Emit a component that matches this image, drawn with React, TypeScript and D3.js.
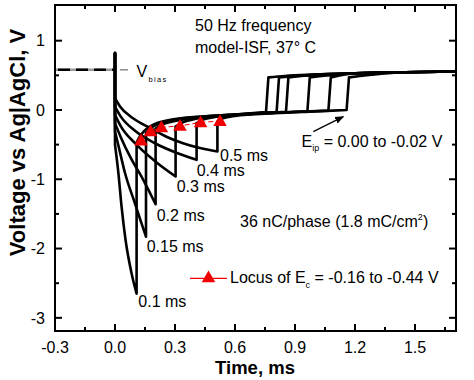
import React from 'react';
import * as d3 from 'd3';

// ---- data ----
const pulseLabels = ['0.1 ms', '0.15 ms', '0.2 ms', '0.3 ms', '0.4 ms', '0.5 ms'];
const vBias = 0.58;
const spikeTop = 0.82;

// cathodic phase (t ms, V)
const cathodic01 = [[0, -0.5], [0.017, -0.91], [0.033, -1.4], [0.053, -1.88], [0.083, -2.36], [0.108, -2.65]];
const cathodic015 = [[0, -0.31], [0.02, -0.55], [0.05, -0.91], [0.1, -1.35], [0.133, -1.64], [0.155, -1.83]];
const cathodic02 = [[0, -0.19], [0.03, -0.4], [0.08, -0.7], [0.14, -1.0], [0.203, -1.36]];
const cathodic03 = [[0, -0.07], [0.03, -0.24], [0.1, -0.48], [0.2, -0.74], [0.303, -0.96]];
const cathodic04 = [[0, 0.05], [0.03, -0.1], [0.1, -0.3], [0.2, -0.48], [0.3, -0.61], [0.408, -0.72]];
const cathodic05 = [[0, 0.17], [0.025, 0.05], [0.09, -0.12], [0.175, -0.26], [0.26, -0.39], [0.34, -0.48], [0.425, -0.55], [0.512, -0.6]];

// recovery after the cathodic phase, up to the anodic step
const recovery01 = [[0.108, -0.47], [0.125, -0.38], [0.15, -0.29], [0.2, -0.2], [0.3, -0.13], [0.45, -0.09], [0.6, -0.065], [0.755, -0.03]];
const recovery015 = [[0.155, -0.33], [0.175, -0.27], [0.21, -0.21], [0.3, -0.14], [0.45, -0.095], [0.6, -0.065], [0.808, -0.03]];
const recovery02 = [[0.203, -0.27], [0.23, -0.22], [0.3, -0.16], [0.45, -0.1], [0.6, -0.07], [0.855, -0.025]];
const recovery03 = [[0.303, -0.24], [0.33, -0.19], [0.4, -0.13], [0.5, -0.09], [0.6, -0.07], [0.8, -0.04], [0.962, -0.02]];
const recovery04 = [[0.408, -0.19], [0.44, -0.14], [0.5, -0.1], [0.6, -0.07], [0.8, -0.04], [1.067, -0.01]];
const recovery05 = [[0.512, -0.17], [0.54, -0.12], [0.6, -0.085], [0.8, -0.045], [1.0, -0.02], [1.158, 0.0]];

const jumpTops = [0.47, 0.47, 0.47, 0.47, 0.47, 0.47];
const postJump = [[0.85, 0.49], [1.0, 0.51], [1.2, 0.53], [1.45, 0.545], [1.7, 0.555]];

// locus of Ec
const ecTimes = [0.13, 0.178, 0.232, 0.325, 0.428, 0.525];
const ecValues = [-0.44, -0.31, -0.25, -0.23, -0.18, -0.16];

const xMajor = [-0.3, 0, 0.3, 0.6, 0.9, 1.2, 1.5];
const xMinor = [-0.15, 0.15, 0.45, 0.75, 1.05, 1.35, 1.65];
const yMajor = [-3, -2, -1, 0, 1];
const yMinor = [-2.5, -1.5, -0.5, 0.5];

const cathodics = [cathodic01, cathodic015, cathodic02, cathodic03, cathodic04, cathodic05];
const recoveries = [recovery01, recovery015, recovery02, recovery03, recovery04, recovery05];

const FONT = '"Liberation Sans", Arial, sans-serif';

export default function App() {
  const W = 474, H = 380;
  const L = 55, R = 456, T = 5, B = 331;
  const x = d3.scaleLinear().domain([-0.3, 1.705]).range([L, R]);
  const y = d3.scaleLinear().domain([-3.19, 1.515]).range([B, T]);

  const smooth = d3.line<number[]>().x(d => x(d[0])).y(d => y(d[1])).curve(d3.curveMonotoneX);
  const straight = d3.line<number[]>().x(d => x(d[0])).y(d => y(d[1]));

  const paths: string[] = [];
  cathodics.forEach((cat, i) => {
    const rec = recoveries[i];
    const lastC = cat[cat.length - 1];
    const lastR = rec[rec.length - 1];
    const jt = lastR[0];
    const top = [jt + 0.012, jumpTops[i]];
    let d = '';
    d += straight([[0, spikeTop], cat[0]]);
    d += smooth(cat);
    d += straight([lastC, rec[0]]);
    d += smooth(rec);
    d += straight([lastR, top]);
    d += smooth([top, ...postJump.filter(p => p[0] > jt + 0.07)]);
    paths.push(d);
  });

  const tri = d3.symbol().type(d3.symbolTriangle).size(80)();
  const red = '#f00000';
  const labelPos = [
    [138.3, 306.7], [146.7, 251.7], [156.7, 220.7], [176.7, 191.7], [196.7, 175.5], [220, 161],
  ];
  const fmtX = (v: number) => d3.format('.1f')(v).replace('\u2212', '-');

  return (
    <svg width={W} height={H} style={{ position: 'absolute', left: 0, top: 0, background: '#fff' }} fontFamily={FONT}>
      <rect x={0} y={0} width={W} height={H} fill="#fff" />
      {/* Vbias pre-pulse */}
      <line x1={x(-0.3)} x2={x(0)} y1={y(vBias)} y2={y(vBias)} stroke="#9a9a9a" strokeWidth={2.4} />
      <line x1={x(-0.3)} x2={x(0)} y1={y(vBias)} y2={y(vBias)} stroke="#000" strokeWidth={2.4} strokeDasharray="12,6" strokeDashoffset={-3} />
      <line x1={120} x2={128} y1={y(vBias)} y2={y(vBias)} stroke="#8a8a8a" strokeWidth={1.5} />
      <text x={136.5} y={77} fontSize={16}>V</text>
      <text x={148.5} y={81.5} fontSize={7.5} letterSpacing={1.3}>bias</text>

      {/* traces */}
      {paths.map((d, i) => (
        <path key={i} d={d} fill="none" stroke="#000" strokeWidth={2.6} strokeLinejoin="round" strokeLinecap="round" />
      ))}

      {/* locus of Ec */}
      <path d={straight(ecTimes.map((t, i) => [t, ecValues[i]])) || ''} fill="none" stroke={red} strokeWidth={1} strokeDasharray="5,3" />
      {ecTimes.map((t, i) => (
        <path key={i} d={tri || ''} transform={`translate(${x(t)},${y(ecValues[i]) + 1})`} fill={red} />
      ))}

      {/* pulse width labels */}
      {pulseLabels.map((lab, i) => (
        <text key={lab} x={labelPos[i][0]} y={labelPos[i][1]} fontSize={16}>{lab}</text>
      ))}

      {/* annotations */}
      <text x={195} y={30.7} fontSize={16}>50 Hz frequency</text>
      <text x={195} y={53.3} fontSize={16}>model-ISF, 37° C</text>
      <text x={301.5} y={146.7} fontSize={16}>
        E<tspan fontSize={9} dy={4.5}>ip</tspan><tspan dy={-4.5}> = 0.00 to -0.02 V</tspan>
      </text>
      <defs>
        <marker id="ah" viewBox="0 0 10 10" refX={9} refY={5} markerWidth={7} markerHeight={7} orient="auto">
          <path d="M0,1 L10,5 L0,9 z" fill="#000" />
        </marker>
      </defs>
      <line x1={313.3} y1={131.7} x2={343.3} y2={116.7} stroke="#000" strokeWidth={1.3} markerEnd="url(#ah)" />
      <text x={240} y={226.7} fontSize={16}>
        36 nC/phase (1.8 mC/cm<tspan fontSize={9} dy={-7}>2</tspan><tspan dy={7}>)</tspan>
      </text>

      {/* legend */}
      <line x1={190} x2={227} y1={278.3} y2={278.3} stroke={red} strokeWidth={1.2} />
      <path d={tri || ''} transform={`translate(208.5,${278.3})`} fill={red} />
      <text x={230} y={283.3} fontSize={16}>
        Locus of E<tspan fontSize={9} dy={4.5}>c</tspan><tspan dy={-4.5}> = -0.16 to -0.44 V</tspan>
      </text>

      {/* frame and ticks */}
      <rect x={L} y={T} width={R - L} height={B - T} fill="none" stroke="#000" strokeWidth={2} />
      {xMajor.map(v => (
        <g key={'xM' + v}>
          <line x1={x(v)} x2={x(v)} y1={B} y2={B - 7} stroke="#000" strokeWidth={2} />
          <line x1={x(v)} x2={x(v)} y1={T} y2={T + 7} stroke="#000" strokeWidth={2} />
          <text x={x(v)} y={352.5} fontSize={16} textAnchor="middle">{fmtX(v)}</text>
        </g>
      ))}
      {xMinor.map(v => (
        <g key={'xm' + v}>
          <line x1={x(v)} x2={x(v)} y1={B} y2={B - 4} stroke="#000" strokeWidth={2} />
          <line x1={x(v)} x2={x(v)} y1={T} y2={T + 4} stroke="#000" strokeWidth={2} />
        </g>
      ))}
      {yMajor.map(v => (
        <g key={'yM' + v}>
          <line x1={L} x2={L + 7} y1={y(v)} y2={y(v)} stroke="#000" strokeWidth={2} />
          <line x1={R} x2={R - 7} y1={y(v)} y2={y(v)} stroke="#000" strokeWidth={2} />
          <text x={45} y={y(v)} dy="0.36em" fontSize={16} textAnchor="end">{String(v)}</text>
        </g>
      ))}
      {yMinor.map(v => (
        <g key={'ym' + v}>
          <line x1={L} x2={L + 4} y1={y(v)} y2={y(v)} stroke="#000" strokeWidth={2} />
          <line x1={R} x2={R - 4} y1={y(v)} y2={y(v)} stroke="#000" strokeWidth={2} />
        </g>
      ))}

      {/* axis titles */}
      <text x={255} y={374} fontSize={18.5} fontWeight="bold" textAnchor="middle">Time, ms</text>
      <text transform="translate(25,142.5) rotate(-90)" fontSize={22} fontWeight="bold" textAnchor="middle">Voltage vs Ag|AgCl, V</text>
    </svg>
  );
}
